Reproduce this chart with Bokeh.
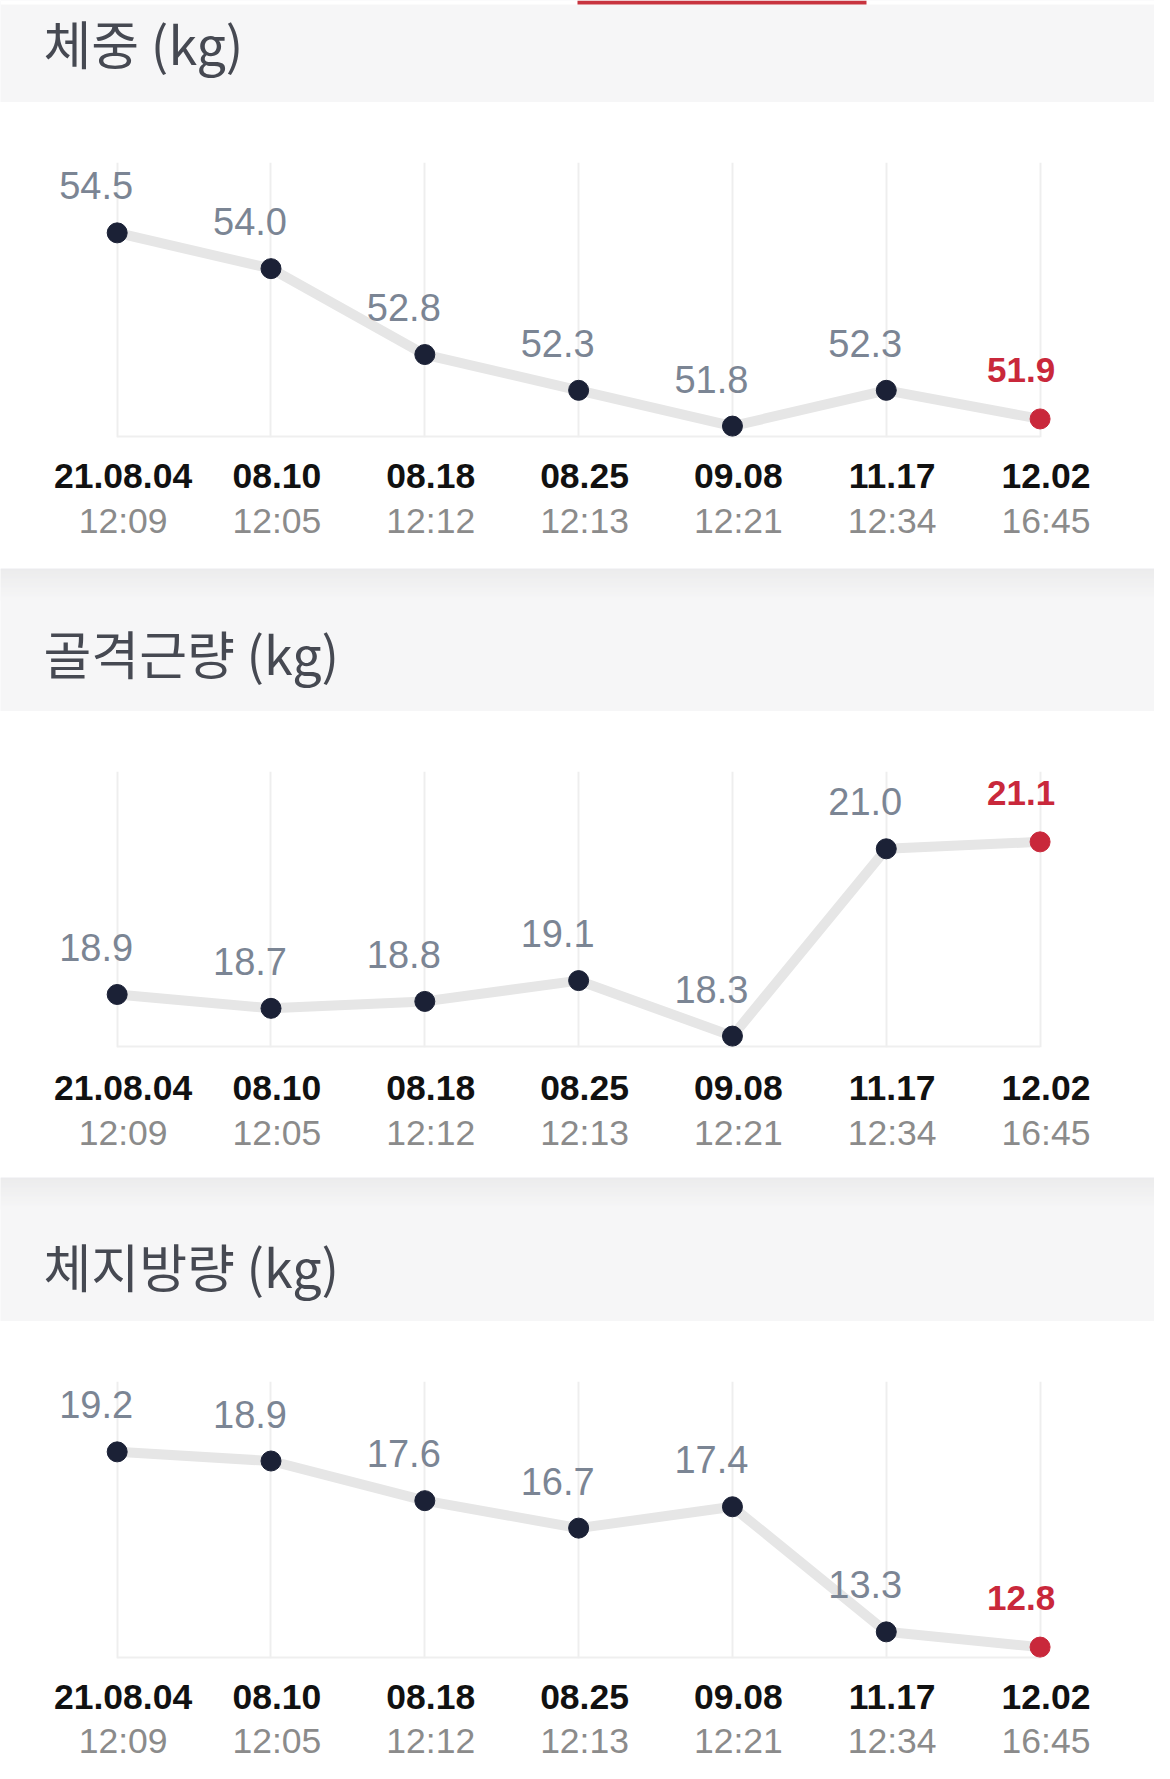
from bokeh.plotting import figure
from bokeh.layouts import column
from bokeh.models import Range1d, LinearAxis, FixedTicker, Grid
from bokeh.core.properties import value
from bokeh.embed import file_html
from bokeh.resources import INLINE

# ---------------- data ----------------
dates = ["21.08.04", "08.10", "08.18", "08.25", "09.08", "11.17", "12.02"]
times = ["12:09", "12:05", "12:12", "12:13", "12:21", "12:34", "16:45"]
weight = [54.5, 54.0, 52.8, 52.3, 51.8, 52.3, 51.9]
muscle = [18.9, 18.7, 18.8, 19.1, 18.3, 21.0, 21.1]
fat = [19.2, 18.9, 17.6, 16.7, 17.4, 13.3, 12.8]
titles = ["체중 (kg)", "골격근량 (kg)", "체지방량 (kg)"]

# ---------------- layout (reference px, scaled to page) ----------------
W, H = 1154, 1763
SX, SY = W / 1170.0, H / 1779.0

HEADER_BG = "#f6f6f7"
SHADOW_TOP = (232, 232, 233)
SHADOW_BOT = (246, 246, 247)
LINE_C = "#e6e6e6"
DOT_C = "#1b2136"
RED = "#c9283b"
BAR_RED = "#c8343f"
LABEL_C = "#7b8594"
GRID_C = "#eeeeee"
NUM_FONT = value("Liberation Sans")
KR_FONT = value("Noto Sans CJK KR")

X0_PX = 118.3 * SX
STEP_PX = 155.95 * SX
LABEL_SHIFT_PX = 6.0 * SX
PAD_TOP = 71.0 * SY
PAD_BOT = 11.5 * SY

idx = list(range(len(dates)))
x_start = -X0_PX / STEP_PX
x_end = (W - X0_PX) / STEP_PX


def header(title, h, title_from_top, shadow, top_bar=False):
    p = figure(width=W, height=h, x_range=Range1d(0, W), y_range=Range1d(0, h),
               tools="", toolbar_location=None, output_backend="svg",
               x_axis_location=None, y_axis_location=None, min_border=0,
               outline_line_color=None, background_fill_color=HEADER_BG,
               border_fill_color=HEADER_BG)
    p.grid.visible = False
    if top_bar:
        strip = 4 * SY
        p.quad(left=[0], right=[W], top=[h], bottom=[h - strip],
               fill_color="white", line_color=None)
        p.quad(left=[585 * SX], right=[878 * SX], top=[h], bottom=[h - strip],
               fill_color=BAR_RED, line_color=None)
    if shadow:
        n = 32
        tops, bots, cols = [], [], []
        for i in range(n):
            t = i / (n - 1)
            c = tuple(int(round(a + (b - a) * t)) for a, b in zip(SHADOW_TOP, SHADOW_BOT))
            tops.append(h - i)
            bots.append(h - i - 1)
            cols.append("#%02x%02x%02x" % c)
        p.quad(left=[0] * n, right=[W] * n, top=tops, bottom=bots,
               fill_color=cols, line_color=None)
    p.text(x=[43], y=[h - title_from_top], text=[title], text_font=KR_FONT,
           text_font_size="52px", text_color="#464952", text_align="left",
           text_baseline="middle")
    return p


def chart(vals, h, top, frame_h, standoff1, standoff2):
    bottom = h - top - frame_h
    vmin, vmax = min(vals), max(vals)
    ppu = (frame_h - PAD_TOP - PAD_BOT) / (vmax - vmin)
    yr = Range1d(vmin - PAD_BOT / ppu, vmax + PAD_TOP / ppu)
    p = figure(width=W, height=h, x_range=Range1d(x_start, x_end), y_range=yr,
               tools="", toolbar_location=None, output_backend="svg",
               x_axis_location=None, y_axis_location=None,
               min_border_left=0, min_border_right=0,
               min_border_top=top, min_border_bottom=bottom,
               outline_line_color=None, background_fill_color="white",
               border_fill_color="white")
    p.grid.visible = False
    p.add_layout(Grid(dimension=0, ticker=FixedTicker(ticks=idx),
                      grid_line_color=GRID_C, grid_line_width=2), "center")
    p.segment(x0=[idx[0]], x1=[idx[-1]], y0=[yr.start], y1=[yr.start],
              line_color="#efefef", line_width=4)

    p.line(idx, vals, line_color=LINE_C, line_width=10,
           line_join="round", line_cap="round")
    p.scatter(idx[:-1], vals[:-1], size=20, fill_color=DOT_C, line_color=DOT_C)
    p.scatter(idx[-1:], vals[-1:], size=20, fill_color=RED, line_color=RED)

    p.text(idx[:-1], vals[:-1], text=[f"{v:.1f}" for v in vals[:-1]],
           x_offset=-21, y_offset=-47, text_align="center",
           text_baseline="alphabetic", text_font=NUM_FONT,
           text_font_size="38px", text_color=LABEL_C)
    p.text(idx[-1:], vals[-1:], text=[f"{v:.1f}" for v in vals[-1:]],
           x_offset=-19, y_offset=-49, text_align="center",
           text_baseline="alphabetic", text_font=NUM_FONT,
           text_font_size="35px", text_font_style="bold", text_color=RED)

    shift = LABEL_SHIFT_PX / STEP_PX
    p.extra_x_ranges = {"lab": Range1d(x_start - shift, x_end - shift)}
    common = dict(x_range_name="lab", ticker=FixedTicker(ticks=idx),
                  axis_line_color=None, major_tick_line_color=None,
                  minor_tick_line_color=None, major_tick_out=0, major_tick_in=0,
                  major_label_text_font="Liberation Sans",
                  major_label_text_font_size="35.5px")
    ax1 = LinearAxis(major_label_overrides={i: d for i, d in zip(idx, dates)},
                     major_label_standoff=standoff1,
                     major_label_text_font_style="bold",
                     major_label_text_color="#111111", **common)
    ax2 = LinearAxis(major_label_overrides={i: t for i, t in zip(idx, times)},
                     major_label_standoff=standoff2,
                     major_label_text_font_style="normal",
                     major_label_text_color="#8b8b8b", **common)
    p.add_layout(ax1, "below")
    p.add_layout(ax2, "below")
    return p


h1 = header(titles[0], 102, 42, False, top_bar=True)
c1 = chart(weight, 466, 60, 275, 26, 10)
h2 = header(titles[1], 143, 84, True)
c2 = chart(muscle, 466, 60, 276, 28, 10)
h3 = header(titles[2], 144, 88, True)
c3 = chart(fat, 442, 60, 277, 26, 9)

layout = column(h1, c1, h2, c2, h3, c3, spacing=0)

with open("out.html", "w") as f:
    f.write(file_html(layout, INLINE))
